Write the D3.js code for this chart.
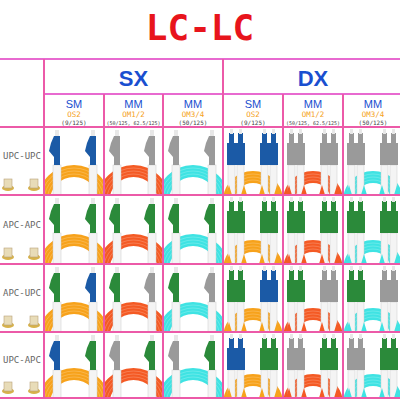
<!DOCTYPE html><html><head><script src="https://cdn.jsdelivr.net/npm/d3@7"></script>
<style>body{margin:0;background:#fff}</style></head><body><svg id="c" width="400" height="400"></svg>
<script>
const groups=["SX","DX"];
const fiberTypes=["SM","MM","MM"];
const grades=["OS2","OM1/2","OM3/4"];
const specs=["(9/125)","(50/125, 62.5/125)","(50/125)"];
const cableColors=["#f7a21b","#f45a24","#3fe3e3"];
const rowLabels=["UPC-UPC","APC-APC","APC-UPC","UPC-APC"];
const ends=[["UPC","UPC"],["APC","APC"],["APC","UPC"],["UPC","APC"]];
const colX=[44,104,163,223,283,343,403];
const rowY=[127,195,264,332,398];
const svg=d3.select("#c");
svg.append("text").attr("x",200).attr("y",40).attr("text-anchor","middle").attr("font-family","DejaVu Sans Mono").attr("font-weight","bold").attr("font-size",36).attr("fill","#e8141c").text("LC-LC");
const cols=d3.range(6);
function conColor(end,t){return end==="APC"?"#2b8a3a":(t===0?"#1b5aa6":"#9a9a9a");}
rowLabels.forEach((lab,r)=>{
  const y0=rowY[r],h=rowY[r+1]-y0;
  svg.append("text").attr("x",22).attr("y",y0+h/2-2).attr("text-anchor","middle").attr("font-family","DejaVu Sans Mono").attr("font-size",9).attr("fill","#666").text(lab);
  [8,34].forEach(cx=>{const g=svg.append("g");
    g.append("ellipse").attr("cx",cx).attr("cy",y0+h-7).attr("rx",6).attr("ry",3).attr("fill","#d7b24a");
    g.append("rect").attr("x",cx-4).attr("y",y0+h-16).attr("width",8).attr("height",9).attr("fill","#e8dcb8").attr("stroke","#b9a27a").attr("stroke-width",0.6);
  });
  cols.forEach(c=>{
    const t=c%3,dx=c>=3,x0=colX[c],w=colX[c+1]-x0;
    const g=svg.append("g");
    const id="cl"+r+"_"+c;
    g.append("clipPath").attr("id",id).append("rect").attr("x",x0).attr("y",y0).attr("width",w).attr("height",h);
    const gg=g.append("g").attr("clip-path","url(#"+id+")");
    const cx=x0+w/2,cy=y0+h+6,R=dx?24:30;
    gg.append("circle").attr("cx",cx).attr("cy",cy).attr("r",R).attr("fill","none").attr("stroke",cableColors[t]).attr("stroke-width",12);
    [-3,0,3].forEach(o=>gg.append("circle").attr("cx",cx).attr("cy",cy).attr("r",R+o).attr("fill","none").attr("stroke","#fff").attr("stroke-opacity",0.35).attr("stroke-width",0.6));
    if(dx){
      [[x0+5,ends[r][0]],[x0+w-22,ends[r][1]]].forEach(([lx,e])=>{
        const col=conColor(e,t);
        [0,9].forEach(o=>{gg.append("rect").attr("x",lx+o).attr("y",y0+38).attr("width",7).attr("height",h-38).attr("fill","#f4f4f4").attr("stroke","#ccc").attr("stroke-width",0.5);
          gg.append("rect").attr("x",lx+o+1).attr("y",y0+6).attr("width",5).attr("height",12).attr("fill",col);
          gg.append("rect").attr("x",lx+o+2).attr("y",y0+2).attr("width",3).attr("height",5).attr("fill","#e8e8e8");});
        gg.append("rect").attr("x",lx-1).attr("y",y0+16).attr("width",18).attr("height",22).attr("fill",col);
        gg.append("path").attr("d",`M${lx-2},${y0+h} l3,-10 l3,10 M${lx+13},${y0+h} l3,-10 l3,10`).attr("fill",cableColors[t]);
      });
    } else {
      [[x0+13,ends[r][0]],[x0+w-11,ends[r][1]]].forEach(([lx,e])=>{
        const col=conColor(e,t);
        gg.append("rect").attr("x",lx-4).attr("y",y0+38).attr("width",8).attr("height",h-38).attr("fill","#f4f4f4").attr("stroke","#ccc").attr("stroke-width",0.5);
        gg.append("rect").attr("x",lx-2).attr("y",y0+3).attr("width",4).attr("height",6).attr("fill","#e8e8e8");
        gg.append("path").attr("d",`M${lx-3},${y0+9} h6 v29 h-6 v-8 l-5,-6 l2,-8 z`).attr("fill",col);
      });
    }
  });
});
groups.forEach((gname,i)=>{svg.append("text").attr("x",(colX[i*3]+colX[i*3+3])/2).attr("y",86).attr("text-anchor","middle").attr("font-family","Liberation Sans").attr("font-weight","bold").attr("font-size",22).attr("fill","#1a4fd0").text(gname);});
cols.forEach(c=>{const t=c%3,cx=(colX[c]+colX[c+1])/2;
  svg.append("text").attr("x",cx).attr("y",108).attr("text-anchor","middle").attr("font-family","Liberation Sans").attr("font-size",11).attr("fill","#1a4fd0").text(fiberTypes[t]);
  svg.append("text").attr("x",cx).attr("y",117).attr("text-anchor","middle").attr("font-family","DejaVu Sans Mono").attr("font-size",7.5).attr("fill","#f5a21b").text(grades[t]);
  svg.append("text").attr("x",cx).attr("y",124.5).attr("text-anchor","middle").attr("font-family","DejaVu Sans Mono").attr("font-size",t===1?5:6).attr("fill","#444").text(specs[t]);
});
const lc="#e86ad0";
svg.append("line").attr("x1",0).attr("x2",400).attr("y1",59).attr("y2",59).attr("stroke",lc).attr("stroke-width",2);
svg.append("line").attr("x1",44).attr("x2",400).attr("y1",94).attr("y2",94).attr("stroke",lc).attr("stroke-width",2);
rowY.forEach(y=>svg.append("line").attr("x1",0).attr("x2",400).attr("y1",y).attr("y2",y).attr("stroke","#ec5aa8").attr("stroke-width",2));
colX.forEach((x,i)=>svg.append("line").attr("x1",x).attr("x2",x).attr("y1",(i%3===0)?59:94).attr("y2",398).attr("stroke","#ec5aa8").attr("stroke-width",2));
</script></body></html>
